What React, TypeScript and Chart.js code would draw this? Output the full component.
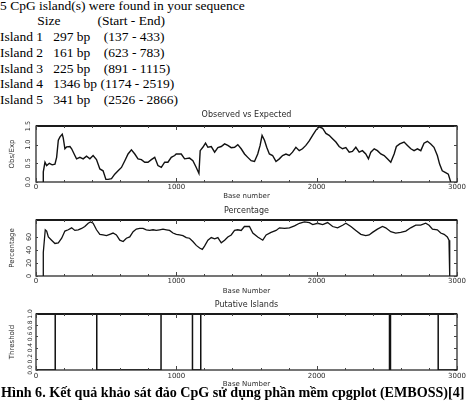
import React, { useEffect, useRef } from 'react';
import { Chart, registerables } from 'chart.js';

Chart.register(...registerables);

// ---------- data ----------
const islandNames = ['Island 1', 'Island 2', 'Island 3', 'Island 4', 'Island 5'];
const islandSizes = [297, 161, 225, 1346, 341];
const islandStarts = [137, 623, 891, 1174, 2526];
const islandEnds = [433, 783, 1115, 2519, 2866];

// island regions as drawn in the "Putative Islands" panel of the picture
const plotIslandStarts = [137, 891, 1174, 2526];
const plotIslandEnds = [433, 1115, 2519, 2866];

const obsExpBase = [52, 52, 64, 76, 95, 115, 135, 147, 159, 171, 187, 194, 206, 218, 242, 254, 277, 289, 313, 336, 360, 384, 407, 431, 455, 478, 498, 514, 538, 561, 585, 609, 633, 656, 680, 704, 727, 751, 775, 798, 822, 846, 869, 893, 917, 940, 964, 988, 999, 1035, 1059, 1094, 1118, 1142, 1161, 1170, 1189, 1208, 1225, 1249, 1273, 1296, 1320, 1344, 1367, 1391, 1415, 1438, 1462, 1486, 1509, 1533, 1557, 1580, 1597, 1611, 1628, 1644, 1663, 1686, 1710, 1734, 1757, 1781, 1805, 1828, 1852, 1876, 1899, 1923, 1947, 1971, 1995, 2018, 2042, 2066, 2089, 2113, 2137, 2160, 2184, 2208, 2232, 2255, 2279, 2303, 2326, 2350, 2369, 2386, 2410, 2433, 2457, 2481, 2504, 2528, 2552, 2568, 2592, 2623, 2647, 2671, 2694, 2718, 2742, 2765, 2789, 2813, 2836, 2860, 2876, 2895, 2919, 2938, 2955];
const obsExpValue = [0, 0.27, 0.53, 0.44, 0.5, 0.46, 0.48, 0.66, 1.12, 1.21, 1.28, 1.18, 0.89, 0.94, 0.95, 0.89, 0.71, 0.62, 0.66, 0.62, 0.69, 0.62, 0.71, 0.6, 0.35, 0.3, 0.07, 0.07, 0.09, 0.21, 0.3, 0.39, 0.57, 0.75, 0.86, 0.75, 0.62, 0.6, 0.53, 0.53, 0.6, 0.66, 0.44, 0.39, 0.53, 0.53, 0.66, 0.71, 0.75, 0.75, 0.62, 0.64, 0.57, 0.39, 0.23, 0.84, 0.93, 1.04, 0.93, 0.95, 0.8, 0.92, 0.95, 1.02, 0.98, 0.92, 0.93, 1.0, 0.89, 0.75, 0.66, 0.57, 0.55, 0.75, 0.98, 1.25, 1.12, 0.93, 0.75, 0.71, 0.55, 0.62, 0.71, 0.75, 0.71, 0.8, 0.93, 0.84, 0.89, 0.98, 1.1, 1.25, 1.39, 1.48, 1.44, 1.3, 1.25, 1.16, 1.07, 0.95, 0.89, 0.92, 0.8, 0.82, 0.93, 0.8, 0.84, 0.75, 0.62, 0.8, 0.89, 0.84, 0.75, 0.71, 0.62, 0.53, 0.75, 0.95, 1.02, 1.07, 0.98, 0.89, 0.84, 0.89, 0.84, 1.04, 1.09, 1.02, 0.93, 0.71, 0.48, 0.3, 0.25, 0.21, 0.0];

const percentBase = [52, 52, 66, 76, 88, 111, 135, 159, 183, 206, 230, 254, 277, 301, 325, 348, 372, 388, 407, 431, 455, 478, 502, 526, 549, 573, 597, 621, 644, 668, 692, 715, 739, 763, 786, 810, 834, 857, 881, 905, 929, 952, 976, 1000, 1023, 1047, 1071, 1094, 1118, 1142, 1166, 1185, 1201, 1225, 1249, 1273, 1296, 1320, 1344, 1367, 1391, 1415, 1438, 1462, 1485, 1521, 1545, 1580, 1616, 1640, 1675, 1711, 1735, 1771, 1806, 1842, 1877, 1913, 1948, 1972, 2007, 2043, 2078, 2114, 2149, 2185, 2208, 2244, 2279, 2315, 2350, 2374, 2398, 2433, 2469, 2492, 2528, 2563, 2599, 2635, 2670, 2706, 2741, 2777, 2801, 2825, 2860, 2884, 2908, 2931, 2943, 2948];
const percentValue = [0, 36, 71, 69, 60, 55, 50, 51, 58, 69, 71, 74, 70, 71, 73, 76, 81, 83, 81, 71, 64, 63, 62, 64, 66, 63, 55, 53, 58, 60, 68, 72, 73, 73, 71, 70, 71, 70, 71, 72, 71, 70, 66, 64, 63, 62, 59, 58, 53, 47, 43, 41, 46, 55, 59, 57, 59, 51, 55, 60, 63, 70, 71, 70, 76, 76, 66, 60, 55, 63, 67, 70, 74, 73, 74, 77, 81, 83, 82, 79, 81, 79, 82, 76, 74, 78, 81, 76, 70, 64, 62, 63, 67, 72, 76, 74, 68, 66, 67, 69, 74, 78, 78, 81, 78, 72, 71, 66, 64, 60, 55, 0];

const xTickStep = 1000;
const xMinorStep = 200;

// ---------- styling ----------
const FONT = 'DejaVu Sans';
const INK = '#2b2b2b';
const SERIF = '"Liberation Serif", "Times New Roman", serif';

const framePlugin = {
  id: 'emboss-frame',
  afterDraw(chart: any) {
    const { ctx, chartArea: a, scales } = chart;
    const xs = scales.x;
    const ys = scales.y;
    const o = chart.options.plugins.embossFrame || {};
    ctx.save();
    ctx.strokeStyle = '#1a1a1a';
    ctx.lineWidth = 1.2;
    ctx.strokeRect(a.left, a.top, a.right - a.left, a.bottom - a.top);
    ctx.lineWidth = 1.8;
    ctx.beginPath();
    ctx.moveTo(a.left, a.top);
    ctx.lineTo(a.right, a.top);
    ctx.stroke();
    // inward tick marks
    ctx.lineWidth = 1;
    ctx.strokeStyle = '#444';
    ctx.beginPath();
    for (let v = xs.min; v <= xs.max + 1e-9; v += xMinorStep) {
      const px = Math.round(xs.getPixelForValue(v)) + 0.5;
      const len = v % xTickStep === 0 ? 4 : 2;
      ctx.moveTo(px, a.bottom);
      ctx.lineTo(px, a.bottom - len);
      ctx.moveTo(px, a.top);
      ctx.lineTo(px, a.top + len);
    }
    ys.ticks.forEach((t: any) => {
      const py = Math.round(ys.getPixelForValue(t.value)) + 0.5;
      ctx.moveTo(a.right, py);
      ctx.lineTo(a.right - 3, py);
      ctx.moveTo(a.left, py);
      ctx.lineTo(a.left + 2, py);
    });
    ctx.stroke();
    // rotated y tick labels
    ctx.fillStyle = INK;
    ctx.font = `${o.tickSize || 6.5}px "${FONT}"`;
    ctx.textAlign = 'center';
    ctx.textBaseline = 'middle';
    ys.ticks.forEach((t: any) => {
      const py = ys.getPixelForValue(t.value);
      ctx.save();
      ctx.translate(o.labelX || 28, py);
      ctx.rotate(-Math.PI / 2);
      ctx.fillText(t.label, 0, 0);
      ctx.restore();
    });
    ctx.restore();
  },
};

type PanelCfg = {
  top: number;
  height: number;
  title: string;
  titlePad: { top: number; bottom: number };
  xTitle: string;
  xHeight: number;
  xTickPad: number;
  yTitle: string;
  yMin: number;
  yMax: number;
  yStep: number;
  yDecimals: number;
  labelX: number;
  tickSize: number;
  points: { x: number; y: number }[];
  lineWidth: number;
};

function Panel({ cfg }: { cfg: PanelCfg }) {
  const ref = useRef<HTMLCanvasElement | null>(null);
  useEffect(() => {
    if (!ref.current) return;
    const step = cfg.yStep;
    const chart = new Chart(ref.current, {
      type: 'line',
      data: {
        datasets: [
          {
            data: cfg.points,
            borderColor: '#111',
            borderWidth: cfg.lineWidth,
            pointRadius: 0,
            tension: 0,
            fill: false,
          },
        ],
      },
      options: {
        animation: false,
        responsive: false,
        maintainAspectRatio: false,
        events: [],
        layout: { padding: { left: 0, right: 17, top: 0, bottom: 0 } },
        plugins: {
          legend: { display: false },
          tooltip: { enabled: false },
          title: {
            display: true,
            text: cfg.title,
            fullSize: false,
            color: INK,
            font: { family: FONT, size: 8, weight: 'normal' },
            padding: cfg.titlePad,
          },
          embossFrame: { labelX: cfg.labelX, tickSize: cfg.tickSize },
        } as any,
        scales: {
          x: {
            type: 'linear',
            min: 0,
            max: 3000,
            ticks: {
              stepSize: xTickStep,
              autoSkip: false,
              maxRotation: 0,
              padding: cfg.xTickPad,
              color: INK,
              font: { family: FONT, size: 7 },
              callback: (v: any) => String(v),
            },
            grid: { display: false, drawTicks: false },
            border: { display: false },
            title: {
              display: true,
              text: cfg.xTitle,
              color: INK,
              font: { family: FONT, size: 7 },
              padding: { top: 0, bottom: 0 },
            },
            afterFit: (s: any) => {
              s.height = cfg.xHeight;
            },
          },
          y: {
            type: 'linear',
            min: cfg.yMin,
            max: cfg.yMax,
            ticks: {
              display: false,
              stepSize: step,
              callback: (v: any) => Number(v).toFixed(cfg.yDecimals),
            },
            afterBuildTicks: (s: any) => {
              s.ticks = s.ticks.filter(
                (t: any) => Math.abs(t.value / step - Math.round(t.value / step)) < 1e-6
              );
            },
            grid: { display: false, drawTicks: false },
            border: { display: false },
            title: {
              display: true,
              text: cfg.yTitle,
              color: INK,
              font: { family: FONT, size: 7 },
              padding: { top: 7.8, bottom: 0 },
            },
            afterFit: (s: any) => {
              s.width = 36;
            },
          },
        },
      } as any,
      plugins: [framePlugin],
    });
    return () => chart.destroy();
  }, []);
  return (
    <canvas
      ref={ref}
      width={474}
      height={cfg.height}
      style={{ position: 'absolute', left: 0, top: cfg.top, width: 474, height: cfg.height }}
    />
  );
}

function zip(xs: number[], ys: number[]) {
  return xs.map((x, i) => ({ x, y: ys[i] }));
}

function islandSteps(starts: number[], ends: number[]) {
  const pts: { x: number; y: number }[] = [{ x: 0, y: 0 }];
  starts.forEach((s, i) => {
    pts.push({ x: s, y: 0 }, { x: s, y: 1 }, { x: ends[i], y: 1 }, { x: ends[i], y: 0 });
  });
  pts.push({ x: 3000, y: 0 });
  return pts;
}

const panels: PanelCfg[] = [
  {
    top: 106,
    height: 94,
    title: 'Observed vs Expected',
    titlePad: { top: 4.2, bottom: 6.2 },
    xTitle: 'Base number',
    xHeight: 18,
    xTickPad: 1,
    yTitle: 'Obs/Exp',
    yMin: 0,
    yMax: 1.5,
    yStep: 0.5,
    yDecimals: 1,
    labelX: 28,
    tickSize: 6.5,
    points: zip(obsExpBase, obsExpValue),
    lineWidth: 1.4,
  },
  {
    top: 200,
    height: 95,
    title: 'Percentage',
    titlePad: { top: 5.7, bottom: 4.7 },
    xTitle: 'Base Number',
    xHeight: 19,
    xTickPad: 1,
    yTitle: 'Percentage',
    yMin: 0,
    yMax: 86,
    yStep: 20,
    yDecimals: 0,
    labelX: 29,
    tickSize: 6.5,
    points: zip(percentBase, percentValue),
    lineWidth: 1.3,
  },
  {
    top: 295,
    height: 93,
    title: 'Putative Islands',
    titlePad: { top: 4.7, bottom: 4.7 },
    xTitle: 'Base Number',
    xHeight: 18,
    xTickPad: 2,
    yTitle: 'Threshold',
    yMin: 0,
    yMax: 1,
    yStep: 0.2,
    yDecimals: 1,
    labelX: 30,
    tickSize: 6,
    points: islandSteps(plotIslandStarts, plotIslandEnds),
    lineWidth: 1.5,
  },
];

function summaryText() {
  const lines: string[] = [];
  lines.push(`${islandNames.length} CpG island(s) were found in your sequence`);
  lines.push('           Size           (Start - End)');
  islandNames.forEach((n, i) => {
    const size = `${islandSizes[i]} bp`;
    const gap = islandSizes[i] >= 1000 ? ' ' : '    ';
    lines.push(`${n}   ${size}${gap}(${islandStarts[i]} - ${islandEnds[i]})`);
  });
  return lines.join('\n');
}

export default function App() {
  return (
    <div
      style={{
        position: 'absolute',
        left: 0,
        top: 0,
        width: 474,
        height: 402,
        overflow: 'hidden',
        background: '#fff',
      }}
    >
      <div
        style={{
          position: 'absolute',
          left: 0,
          top: -2.4,
          fontFamily: SERIF,
          fontSize: 13.5,
          lineHeight: '15.75px',
          whiteSpace: 'pre',
          color: '#000',
        }}
      >
        {summaryText()}
      </div>
      {panels.map((p, i) => (
        <Panel key={i} cfg={p} />
      ))}
      <div
        style={{
          position: 'absolute',
          left: 1,
          top: 385,
          fontFamily: SERIF,
          fontSize: 14.1,
          fontWeight: 'bold',
          lineHeight: '15.75px',
          whiteSpace: 'pre',
          color: '#000',
        }}
      >
        Hình 6. Kết quả khảo sát đảo CpG sử dụng phần mềm cpgplot (EMBOSS)[4]
      </div>
    </div>
  );
}
